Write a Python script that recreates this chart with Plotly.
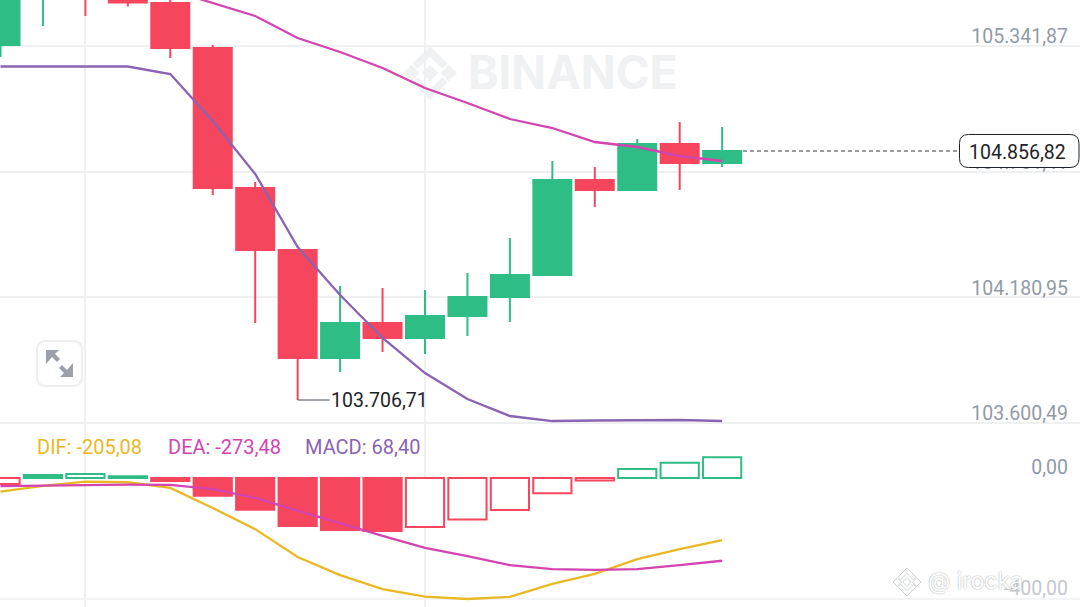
import plotly.graph_objects as go

W, H = 1080, 607

# ---- price candles ----
idx = list(range(18))
opens = [105346.5, 105591.3, 105692.9, 105646.7, 105540.5, 105332.6, 104685.9, 104399.6, 103900.7,
         104062.4, 103993.1, 104094.7, 104182.5, 104284.1, 104722.9, 104676.7, 104889.2, 104801.4]
highs = [105692.9, 105700.0, 105720.0, 105670.0, 105563.6, 105346.5, 104713.7, 104399.6, 104233.3,
         104224.0, 104214.8, 104293.3, 104455.0, 104810.7, 104783.0, 104912.3, 104990.8, 104967.7]
lows = [105291.0, 105434.2, 105480.4, 105524.3, 105286.4, 104653.6, 104062.4, 103706.71, 103836.0,
        103928.4, 103919.2, 104002.3, 104067.0, 104284.1, 104598.2, 104676.7, 104676.7, 104783.0]
closes = [105623.6, 105669.8, 105609.8, 105542.8, 105332.6, 104685.9, 104399.6, 103900.7, 104062.4,
          103993.1, 104094.7, 104182.5, 104284.1, 104722.9, 104676.7, 104889.2, 104801.4, 104856.82]

ma_slow = [None, None, None, None, 105600.5, 105540.5, 105480.4, 105378.8, 105314.1,
           105240.2, 105147.9, 105078.6, 105004.7, 104963.1, 104898.4, 104875.3, 104833.8, 104810.7]
ma_fast = [105247.2, 105247.2, 105247.2, 105247.2, 105212.5, 104995.4, 104750.6, 104413.4, 104191.7,
           103993.1, 103831.4, 103711.3, 103632.8, 103609.7, 103612.0, 103612.0, 103614.3, 103609.7]

# ---- MACD panel ----
dif = [-45, -26, -12, -14, -33, -99, -169, -261, -321, -367, -392, -400, -393, -350, -317, -268, -235, -205.08]
dea = [-27, -25, -24, -22, -23, -37, -66, -108, -148, -191, -231, -258, -288, -301, -304, -301, -288, -273.48]
macd = [-20, 10, 13, 6, -10, -59, -105, -159, -172, -175, -162, -137, -106, -50, -8, 30, 50, 68.40]
macd_hollow = [True, False, True, True, False, False, False, False, False, False,
               True, True, True, True, True, True, True, True]

price_ticks = [105341.87, 104761.41, 104180.95, 103600.49]
price_labels = ["105.341,87", "104.761,41", "104.180,95", "103.600,49"]
macd_ticks = [0, -400]
macd_labels = ["0,00", '<span style="color:#C4C8CE">-400,00</span>']
time_grid = [2, 10]

RED = "#F6465D"
GREEN = "#2EBD85"
YEL = "#E9B824"
MAG = "#D444B0"
PUR = "#8A63B3"
GRID = "#EEF0F2"
TICK = "#929AA5"
DARK = "#1E2329"
FONT = "Roboto"
LW = 2.3

X_RANGE = [-0.0118, 25.43]
PANEL = (607 - 423) / 607
PRICE_BOTTOM = (607 - 430) / 607

fig = go.Figure()
fig.add_trace(go.Candlestick(
    x=idx, open=opens, high=highs, low=lows, close=closes, xaxis="x", yaxis="y",
    increasing=dict(line=dict(color=GREEN, width=2), fillcolor=GREEN),
    decreasing=dict(line=dict(color=RED, width=2), fillcolor=RED),
    whiskerwidth=0, showlegend=False))
fig.add_trace(go.Scatter(x=idx, y=ma_slow, mode="lines", line=dict(color=MAG, width=LW), xaxis="x", yaxis="y", showlegend=False))
fig.add_trace(go.Scatter(x=idx, y=ma_fast, mode="lines", line=dict(color=PUR, width=LW), xaxis="x", yaxis="y", showlegend=False))

bar_line = [GREEN if v >= 0 else RED for v in macd]
bar_fill = ["white" if h else c for h, c in zip(macd_hollow, bar_line)]
fig.add_trace(go.Bar(x=idx, y=macd, width=0.9, xaxis="x2", yaxis="y2", showlegend=False,
                     marker=dict(color=bar_fill, line=dict(color=bar_line, width=2))))
fig.add_trace(go.Scatter(x=idx, y=dif, mode="lines", line=dict(color=YEL, width=LW), xaxis="x2", yaxis="y2", showlegend=False))
fig.add_trace(go.Scatter(x=idx, y=dea, mode="lines", line=dict(color=MAG, width=LW), xaxis="x2", yaxis="y2", showlegend=False))


def px(x):
    return x / W


def py(y):
    return 1 - y / H


def path(points, close=True):
    s = "M " + " L ".join(f"{px(x):.5f},{py(y):.5f}" for x, y in points)
    return s + (" Z" if close else "")


def round_rect(x0, y0, x1, y1, r):
    P = lambda x, y: f"{px(x):.5f},{py(y):.5f}"
    return (f"M {P(x0 + r, y0)} L {P(x1 - r, y0)} Q {P(x1, y0)} {P(x1, y0 + r)} "
            f"L {P(x1, y1 - r)} Q {P(x1, y1)} {P(x1 - r, y1)} "
            f"L {P(x0 + r, y1)} Q {P(x0, y1)} {P(x0, y1 - r)} "
            f"L {P(x0, y0 + r)} Q {P(x0, y0)} {P(x0 + r, y0)} Z")


def logo(cx, cy, s, fill, line=None):
    """Binance mark, s is half of the overall height."""
    u = s / 26.0
    pieces = [
        [(0, -8), (8, 0), (0, 8), (-8, 0)],
        [(-26, 0), (-18, -8), (-10, 0), (-18, 8)],
        [(26, 0), (18, -8), (10, 0), (18, 8)],
        [(0, -26), (17, -9), (12, -4), (0, -16), (-12, -4), (-17, -9)],
        [(0, 26), (17, 9), (12, 4), (0, 16), (-12, 4), (-17, 9)],
    ]
    out = []
    for p in pieces:
        out.append(dict(type="path", xref="paper", yref="paper", layer="below",
                        path=path([(cx + a * u, cy + b * u) for a, b in p]),
                        fillcolor=fill, line=dict(width=1 if line else 0, color=line or fill)))
    return out


shapes = []
shapes += logo(430, 73, 27, "#F0F1F2")
shapes += logo(907, 582, 14, "#FFFFFF", "#D0D3D7")
# -400 grid line of the lower panel
shapes.append(dict(type="line", xref="paper", x0=0, x1=1, yref="y2", y0=macd_ticks[1], y1=macd_ticks[1],
                   line=dict(color=GRID, width=1.5), layer="below"))
# last price dashed leader
shapes.append(dict(type="line", xref="paper", x0=px(743), x1=px(959), yref="y", y0=closes[-1], y1=closes[-1],
                   line=dict(color="#363B43", width=1.1, dash="4px,3px"), layer="above"))
# last price box
shapes.append(dict(type="path", xref="paper", yref="paper", layer="above",
                   path=round_rect(959.5, 134.5, 1079, 167.5, 9), fillcolor="white",
                   line=dict(color=DARK, width=1)))
# expand button
shapes.append(dict(type="path", xref="paper", yref="paper", layer="above",
                   path=round_rect(37, 341, 82, 386, 9), fillcolor="white",
                   line=dict(color="#EDEEF0", width=2)))
for pts in ([(46, 350), (59, 350), (55, 354), (60, 359), (57, 362), (52, 357), (46, 364)],
            [(73, 377), (60, 377), (64, 373), (59, 368), (62, 365), (67, 370), (73, 363)]):
    shapes.append(dict(type="path", xref="paper", yref="paper", layer="above", path=path(pts),
                       fillcolor="#9AA0A9", line=dict(width=0)))

ann = [
    dict(xref="paper", yref="paper", x=px(466), y=py(72), xanchor="left", yanchor="middle", text="<b>BINANCE</b>",
         showarrow=False, font=dict(family="Inter", size=46, color="#F0F1F2")),
    dict(xref="paper", yref="paper", x=px(35), y=py(447), xanchor="left", yanchor="middle", text="DIF: -205,08",
         showarrow=False, font=dict(family=FONT, size=20, color=YEL)),
    dict(xref="paper", yref="paper", x=px(166), y=py(447), xanchor="left", yanchor="middle", text="DEA: -273,48",
         showarrow=False, font=dict(family=FONT, size=20, color=MAG)),
    dict(xref="paper", yref="paper", x=px(303), y=py(447), xanchor="left", yanchor="middle", text="MACD: 68,40",
         showarrow=False, font=dict(family=FONT, size=20, color=PUR)),
    dict(xref="paper", yref="y", x=px(1068), xanchor="right", yanchor="middle", y=closes[-1], yshift=-1,
         text="104.856,82", showarrow=False, font=dict(family=FONT, size=19.5, color=DARK)),
    dict(x=7, y=min(lows), xref="x", yref="y", text="103.706,71", showarrow=True, arrowhead=0, arrowwidth=1,
         arrowcolor="#474D57", ax=82, ay=0, axref="pixel", ayref="pixel", standoff=0,
         font=dict(family=FONT, size=19.5, color=DARK)),
    dict(xref="paper", yref="paper", x=px(926), y=py(581), xanchor="left", yanchor="middle", text="@ irocka",
         showarrow=False, font=dict(family="Inter", size=23, color="#FFFFFF", shadow="0px 0px 1.5px #8A8E95")),
]

fig.update_layout(
    width=W, height=H, margin=dict(l=0, r=0, t=0, b=0), paper_bgcolor="white", plot_bgcolor="rgba(0,0,0,0)",
    autosize=False, showlegend=False, dragmode=False, boxgap=0.105, boxgroupgap=0, bargap=0.1, shapes=shapes,
    annotations=ann, font=dict(family=FONT),
    xaxis=dict(domain=[0, 1], range=X_RANGE, anchor="y", rangeslider=dict(visible=False), tickvals=time_grid,
               showticklabels=False, ticks="", showgrid=True, gridcolor=GRID, gridwidth=1.5, zeroline=False, showline=False),
    xaxis2=dict(domain=[0, 1], range=X_RANGE, anchor="y2", matches="x", tickvals=time_grid, showticklabels=False,
                ticks="", showgrid=True, gridcolor=GRID, gridwidth=1.5, zeroline=False, showline=False),
    yaxis=dict(domain=[PRICE_BOTTOM, 1], range=[103568.2, 105554.34], anchor="x", side="right", tickmode="array",
               tickvals=price_ticks, ticktext=price_labels, ticklabelposition="inside top", ticklabelstandoff=9,
               ticklabelshift=4, tickfont=dict(family=FONT, size=19.5, color=TICK), ticks="", showgrid=True,
               gridcolor=GRID, gridwidth=1.5, zeroline=False, showline=False),
    yaxis2=dict(domain=[0, PANEL], range=[-426.4, 181.8], anchor="x2", side="right", tickmode="array",
                tickvals=macd_ticks, ticktext=macd_labels, ticklabelposition="inside top", ticklabelstandoff=9,
                ticklabelshift=3, tickfont=dict(family=FONT, size=19.5, color=TICK), ticks="", showgrid=False,
                zeroline=False, showline=False),
)

fig.write_html("out.html", config=dict(displayModeBar=False),
               post_script="document.body.style.margin='0';document.documentElement.style.overflow='hidden';")
